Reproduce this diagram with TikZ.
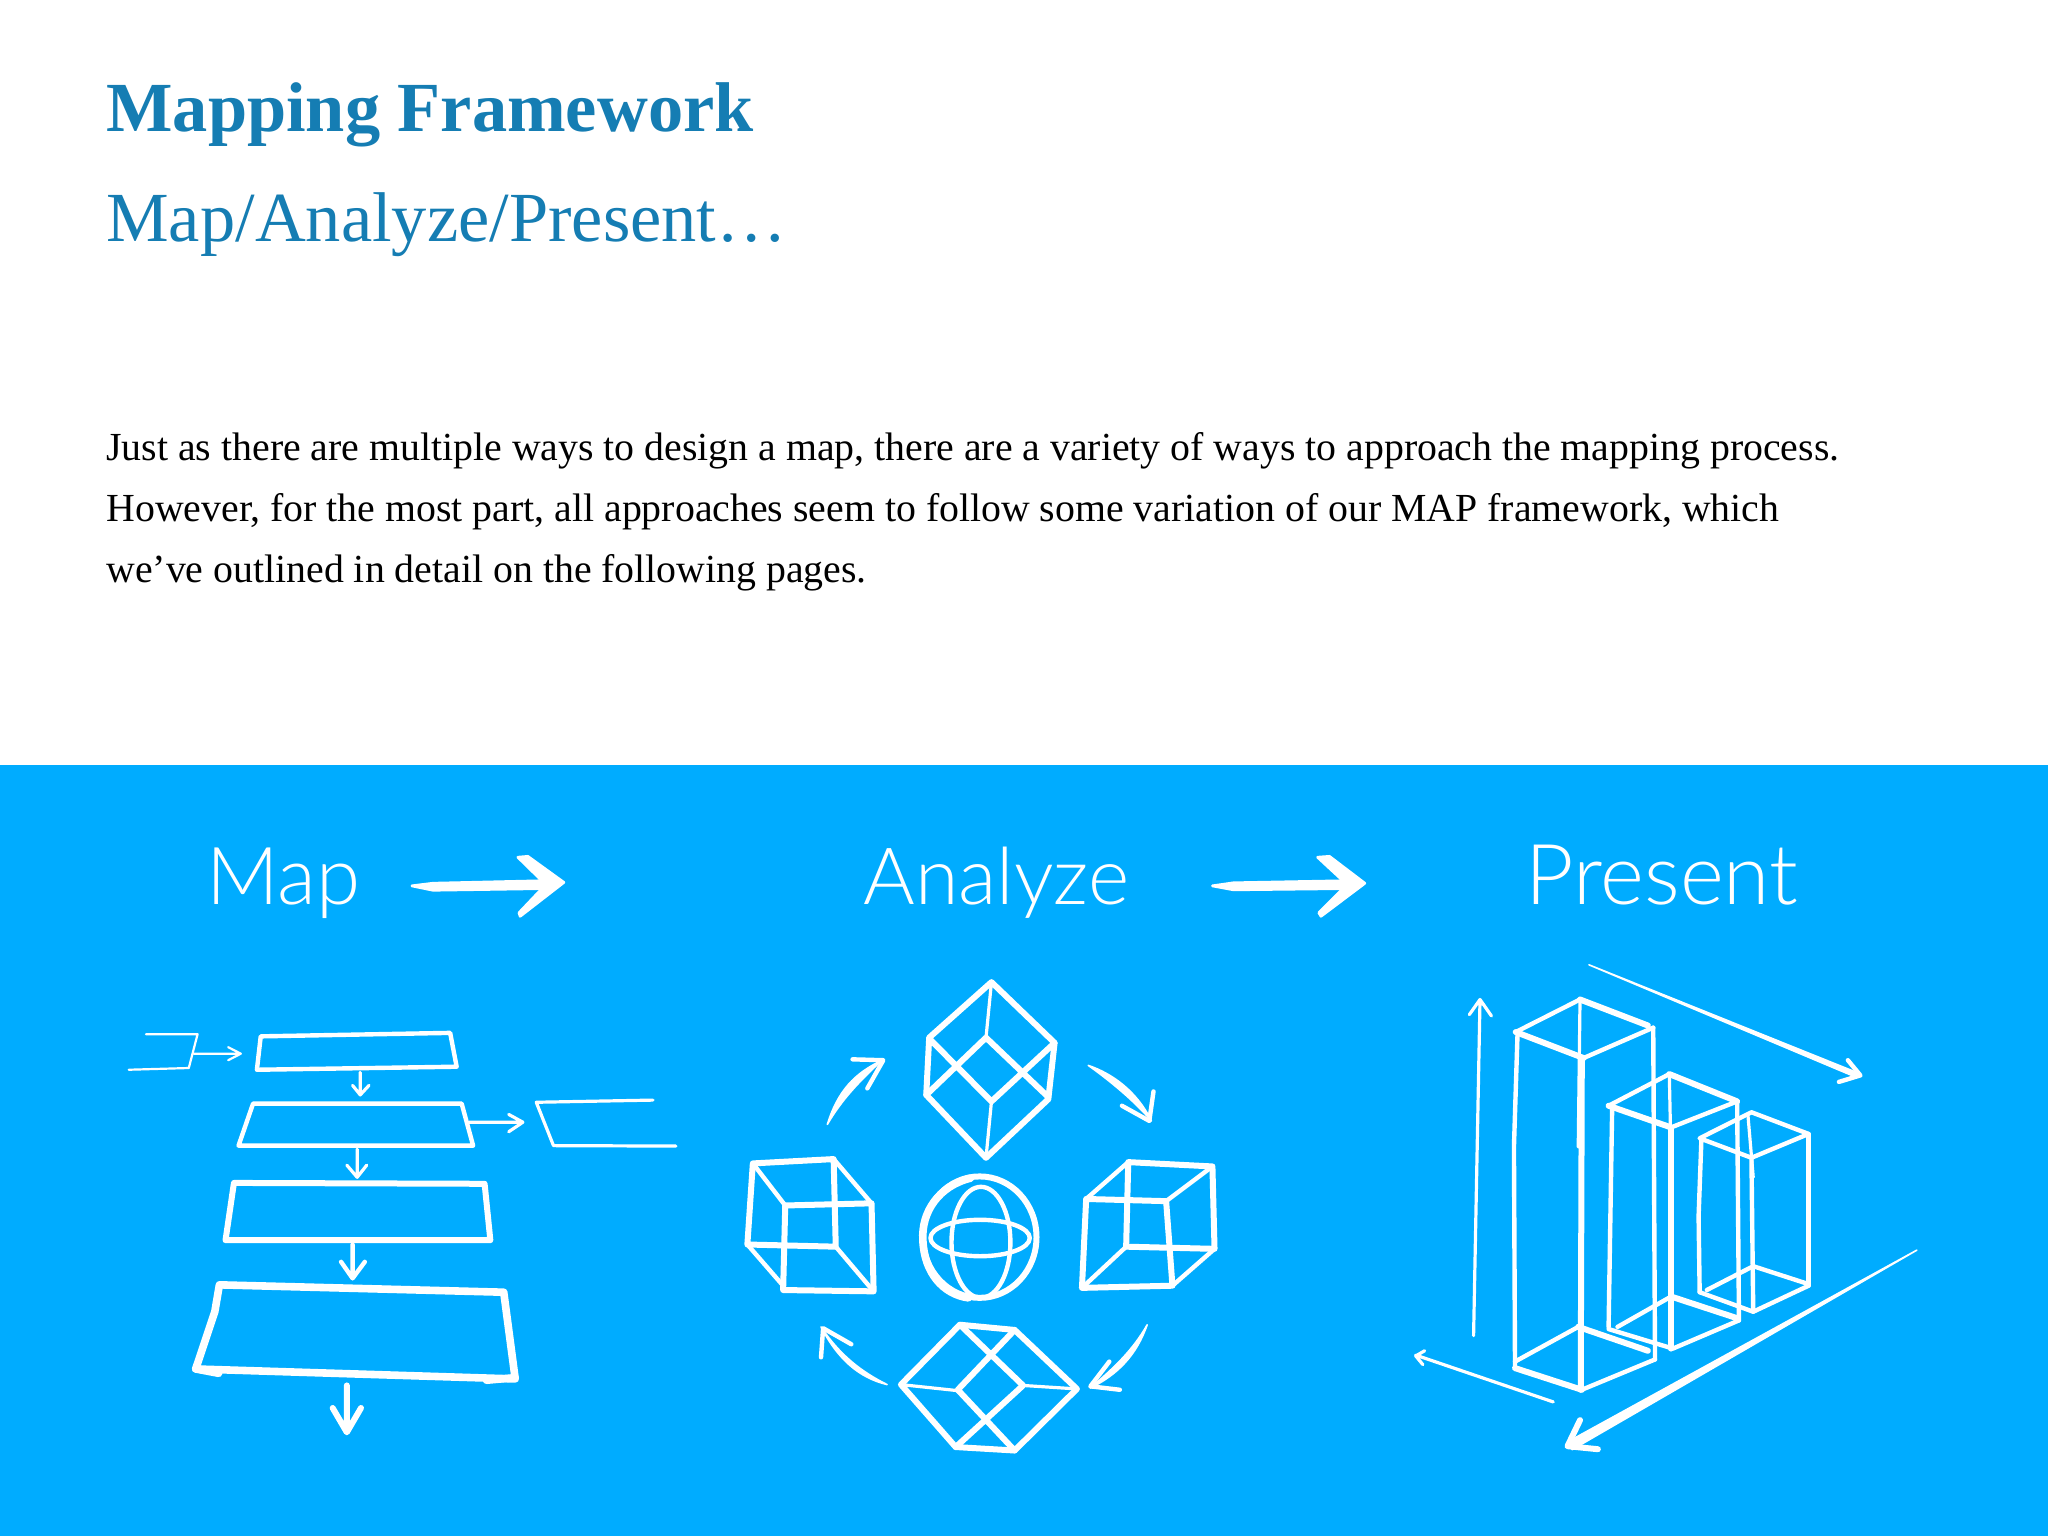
\documentclass[tikz,border=0pt]{standalone}
\usepackage{fontspec}
\setmainfont{Liberation Serif}
\newfontfamily\handf{Lato Light}
\definecolor{skyb}{RGB}{0,172,255}
\definecolor{titleb}{RGB}{21,125,179}
\tikzset{
 titletext/.style={anchor=base west,inner sep=0pt,text=titleb,font=\fontsize{35.2}{40}\selectfont},
 bodytext/.style={anchor=base west,inner sep=0pt,text=black,font=\fontsize{19.9}{24}\selectfont},
 handtext/.style={anchor=base west,inner sep=0pt,text=white,font=\handf\fontsize{40}{44}\selectfont},
 sk/.style={draw=white,line cap=round,line join=round},
 hair/.style={sk,line width=1.1pt},
 thin/.style={sk,line width=1.6pt},
 med/.style={sk,line width=2.2pt},
 thk/.style={sk,line width=3pt},
 hvy/.style={sk,line width=3.8pt},
 blob/.style={sk,fill=white,line width=1.4pt},
 taper/.style={sk,fill=white,line width=0.8pt},
 cropa/.style={shift={(100,800)},x=0.19135pt,y=-0.21683pt},
 cropb/.style={shift={(720,800)},x=0.21044pt,y=-0.21683pt},
 cropc/.style={shift={(1380,800)},x=0.17857pt,y=-0.21683pt},
}
\begin{document}
\begin{tikzpicture}[x=0.5pt,y=-0.5pt]
\useasboundingbox (0,0) rectangle (2048,1536);
\fill[white] (0,0) rectangle (2048,1536);
\fill[skyb] (0,765) rectangle (2048,1536);
\node[titletext,font=\bfseries\fontsize{35.2}{40}\selectfont] (title) at (106,132) {Mapping Framework};
\node[titletext] (subtitle) at (106,241) {Map/Analyze/Present…};
\node[bodytext] (l1) at (106,460) {Just as there are multiple ways to design a map, there are a variety of ways to approach the mapping process.};
\node[bodytext] (l2) at (106,521) {However, for the most part, all approaches seem to follow some variation of our MAP framework, which};
\node[bodytext] (l3) at (106,582) {we’ve outlined in detail on the following pages.};
\node[handtext] (hmap) at (206,904) {Map};
\node[handtext,font=\handf\fontsize{39.5}{44}\selectfont] (hana) at (863,904) {Analyze};
\node[handtext,font=\handf\fontsize{42}{44}\selectfont] (hpre) at (1525,904) {Present};
% Map column
\begin{scope}[cropa]
\fill[blob] (815,198) -- (870,192) -- (1170,186) -- (1170,204) -- (870,208) -- cycle;
\fill[blob] (1092,132) -- (1118,130) -- (1212,190) -- (1098,268) -- (1095,260) -- (1165,195) -- cycle;
\draw[hair] (120,540) -- (255,540) -- (232,618) -- (75,622);
\draw[hair] (245,585) -- (368,585) (335,570) -- (368,585) -- (335,600);
\draw[med] (420,545) -- (915,537) -- (932,615) -- (410,622) -- cycle;
\draw[thin] (680,628) -- (680,680) (660,658) -- (680,680) -- (703,658);
\draw[med] (400,700) -- (945,700) -- (975,797) -- (362,797) -- cycle;
\draw[thin] (965,743) -- (1105,743) (1068,725) -- (1105,743) -- (1068,765);
\draw[thin] (1445,692) -- (1140,697) -- (1185,797) -- (1505,798);
\draw[thin] (672,805) -- (672,870) (645,842) -- (672,870) -- (697,842);
\draw[thk] (350,883) -- (1005,885) -- (1020,1015) -- (328,1015) -- cycle;
\draw[med] (660,1025) -- (660,1100) (630,1065) -- (660,1103) -- (692,1065);
\draw[hvy] (312,1118) -- (1055,1135) -- (1085,1335) -- (250,1312) -- (300,1180) -- cycle;
\draw[hvy] (250,1312) -- (310,1322) (1010,1338) -- (1085,1332);
\draw[thk] (645,1350) -- (645,1455) (608,1402) -- (645,1458) -- (682,1402);
\end{scope}
% Analyze column
\begin{scope}[cropb]
\fill[blob] (1170,198) -- (1220,191) -- (1500,186) -- (1500,204) -- (1220,207) -- cycle;
\fill[blob] (1420,132) -- (1448,130) -- (1532,192) -- (1428,268) -- (1423,260) -- (1490,195) -- cycle;
% top cube
\draw[thk] (645,420) -- (795,560) -- (780,690) -- (632,825) -- (490,680) -- (497,548) -- cycle;
\draw[thk] (497,550) -- (645,695) -- (795,560) (490,680) -- (632,548) -- (780,685);
\draw[thin] (645,420) -- (632,548) (645,695) -- (632,825);
% left cube
\draw[thk] (78,838) -- (270,828) -- (275,1030) -- (65,1025) -- cycle;
\draw[thk] (155,935) -- (360,930) -- (365,1133) -- (150,1130) -- cycle;
\draw[med] (78,838) -- (155,935) (270,828) -- (360,930) (275,1030) -- (365,1133) (65,1025) -- (150,1120);
% right cube
\draw[thk] (970,835) -- (1170,845) -- (1175,1035) -- (965,1030) -- cycle;
\draw[thk] (870,920) -- (1060,925) -- (1075,1120) -- (860,1125) -- cycle;
\draw[med] (970,835) -- (870,920) (1170,845) -- (1060,925) (1175,1035) -- (1075,1120) (965,1030) -- (860,1125);
% bottom cube
\draw[thk] (570,1210) -- (700,1222) -- (848,1358) -- (700,1500) -- (560,1492) -- (430,1348) -- cycle;
\draw[thk] (700,1222) -- (565,1360) -- (700,1500) (570,1210) -- (720,1350) -- (560,1492);
\draw[thin] (430,1348) -- (565,1362) (720,1350) -- (848,1358);
% globe
\draw[thk] (617,1008) ellipse [x radius=135,y radius=140];
\draw[hvy] (595,872) .. controls (520,890) and (478,950) .. (482,1015) .. controls (485,1090) and (530,1140) .. (590,1148);
\draw[med] (620,1020) ellipse [x radius=70,y radius=128];
\draw[med] (618,1010) ellipse [x radius=118,y radius=42];
% cycle arrows
\fill[taper] (255,748) .. controls (280,670) and (320,630) .. (385,600) .. controls (330,650) and (290,690) .. cycle;
\draw[med] (315,598) -- (388,600) -- (350,665);
\fill[taper] (875,612) .. controls (930,630) and (990,670) .. (1025,740) .. controls (985,695) and (930,650) .. cycle;
\draw[med] (955,705) -- (1020,740) -- (1030,672);
\fill[taper] (1015,1210) .. controls (990,1280) and (945,1325) .. (880,1356) .. controls (935,1310) and (980,1270) .. cycle;
\draw[med] (925,1295) -- (880,1352) -- (950,1360);
\fill[taper] (397,1348) .. controls (330,1332) and (280,1290) .. (240,1215) .. controls (285,1280) and (335,1318) .. cycle;
\draw[med] (240,1285) -- (245,1218) -- (312,1255);
\end{scope}
% Present column
\begin{scope}[cropc]
% bar 1
\draw[med] (380,535) -- (560,460) (765,525) -- (570,595);
\draw[thk] (380,535) -- (570,595) (560,460) -- (750,520);
\draw[med] (385,540) -- (375,800) -- (378,1308);
\draw[med] (765,525) -- (770,1290);
\draw[thk] (565,595) -- (562,1360);
\draw[thin] (560,460) -- (555,800);
\draw[thk] (378,1310) -- (565,1360);
\draw[med] (565,1360) -- (770,1290);
\draw[med] (378,1295) -- (555,1215);
\draw[thk] (555,1215) -- (750,1270);
% bar 2
\draw[med] (640,705) -- (810,632) (1000,695) -- (815,755);
\draw[thk] (640,705) -- (815,755) (810,632) -- (1000,695);
\draw[med] (650,710) -- (640,1215);
\draw[med] (1000,695) -- (1005,1200);
\draw[thk] (815,755) -- (815,1265);
\draw[thin] (810,632) -- (815,830);
\draw[med] (640,1220) -- (820,1265) -- (1005,1200);
\draw[med] (665,1215) -- (815,1145);
\draw[thk] (815,1145) -- (1000,1195);
% bar 3
\draw[med] (895,780) -- (1040,720) -- (1200,770) -- (1040,825) -- cycle;
\draw[med] (900,780) -- (892,960) -- (895,1135);
\draw[med] (1200,770) -- (1200,1120);
\draw[med] (1040,825) -- (1045,1180);
\draw[thin] (1030,725) -- (1045,870);
\draw[med] (895,1135) -- (1045,1180) -- (1200,1120);
\draw[med] (915,1130) -- (1045,1075) -- (1195,1115);
% axes
\draw[thin] (262,1235) -- (280,460) (250,495) -- (280,460) -- (312,498);
\fill[taper] (585,380) -- (1340,630) -- (1335,640) -- cycle;
\draw[med] (1310,600) -- (1345,635) -- (1285,650);
\draw[thin] (485,1388) -- (100,1280) (125,1270) -- (100,1282) -- (120,1302);
\fill[taper] (1503,1038) -- (530,1478) -- (538,1498) -- cycle;
\draw[thk] (560,1430) -- (525,1490) -- (610,1497);
\end{scope}
\end{tikzpicture}
\end{document}
